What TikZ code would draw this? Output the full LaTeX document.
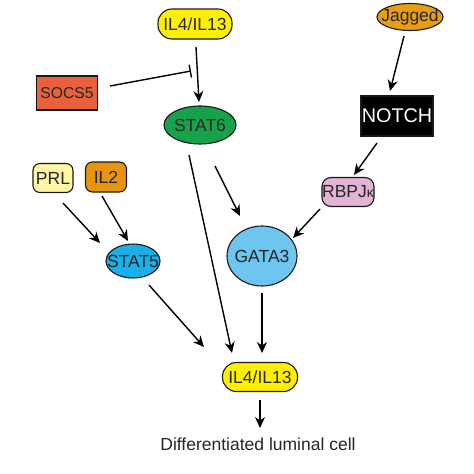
\documentclass[tikz,border=0pt]{standalone}
\usepackage{fontspec}
\setmainfont{Liberation Sans}
\usetikzlibrary{arrows.meta,shapes.geometric}
\definecolor{ilyellow}{RGB}{255,240,0}
\definecolor{socsred}{RGB}{232,96,60}
\definecolor{statgreen}{RGB}{22,162,74}
\definecolor{jagorange}{RGB}{232,158,18}
\definecolor{rbpjpink}{RGB}{226,179,211}
\definecolor{gatablue}{RGB}{109,197,240}
\definecolor{prlyellow}{RGB}{255,246,166}
\definecolor{iltwoorange}{RGB}{232,149,14}
\definecolor{statblue}{RGB}{26,175,232}
\newcommand{\zw}[1]{\makebox[0pt][c]{#1}}
\tikzset{
  base/.style={draw=black!90, line width=1.1pt, inner sep=0pt, text=black!85, font=\fontsize{17.5}{19}\selectfont},
  pill/.style={base, rectangle, rounded corners=14pt},
  rbox/.style={base, rectangle, rounded corners=7pt},
  oval/.style={base, ellipse},
  arr/.style={line width=1.4pt, -{Stealth[length=11pt,width=10pt]}},
  inhib/.style={line width=1.4pt, -{Bar[width=13pt,line width=1.4pt]}}
}
\begin{document}
\begin{tikzpicture}[x=1pt,y=-1pt]
\useasboundingbox (0,0) rectangle (474,474);
\node[pill, fill=ilyellow, minimum width=74pt, minimum height=30pt] (il4t) at (195,24) {IL4/IL13};
\node[base, rectangle, fill=socsred, minimum width=61pt, minimum height=34pt, font=\fontsize{15.7}{17}\selectfont] (socs5) at (67,93) {SOCS5};
\node[oval, fill=statgreen, minimum width=72pt, minimum height=38pt] (stat6) at (200,125) {\zw{STAT6}};
\node[oval, fill=jagorange, minimum width=66pt, minimum height=27pt] (jagged) at (410,17) {\zw{Jagged}};
\node[base, rectangle, fill=black, text=white, minimum width=72pt, minimum height=40pt, font=\fontsize{19.8}{21}\selectfont] (notch) at (397,116) {NOTCH};
\node[rbox, rounded corners=9pt, fill=rbpjpink, minimum width=52pt, minimum height=29pt] (rbpj) at (348,192) {RBPJ{\fontsize{14}{16}\selectfont κ}};
\node[oval, fill=gatablue, minimum width=70pt, minimum height=60pt] (gata3) at (262,256) {\zw{GATA3}};
\node[rbox, fill=prlyellow, minimum width=40pt, minimum height=29pt] (prl) at (53,178) {PRL};
\node[rbox, fill=iltwoorange, minimum width=41pt, minimum height=30pt] (il2) at (106,177) {IL2};
\node[oval, fill=statblue, minimum width=54pt, minimum height=34pt] (stat5) at (133,261) {\zw{STAT5}};
\node[pill, fill=ilyellow, minimum width=75pt, minimum height=29pt] (il4b) at (260,377) {IL4/IL13};
\node[font=\fontsize{17.5}{19}\selectfont, text=black!85, inner sep=0pt] (diff) at (258,444) {Differentiated luminal cell};
\coordinate (inh) at (191,71);

\draw[arr] ([shift={(1,23)}]il4t.center) -- ([shift={(-1,-23)}]stat6.center);
\draw[inhib] ([shift={(43,-7)}]socs5.center) -- (inh);
\draw[arr] ([shift={(-6,19)}]jagged.center) -- ([shift={(-7,-25)}]notch.center);
\draw[arr] ([shift={(-20,27)}]notch.center) -- ([shift={(6,-17)}]rbpj.center);
\draw[arr] ([shift={(-28,17)}]rbpj.center) -- ([shift={(31,-18)}]gata3.center);
\draw[arr] ([shift={(15,41)}]stat6.center) -- ([shift={(-22,-40)}]gata3.center);
\draw[arr] ([shift={(-11,30)}]stat6.center) -- ([shift={(-28,-24)}]il4b.center);
\draw[arr] ([shift={(0,37)}]gata3.center) -- ([shift={(2,-24)}]il4b.center);
\draw[arr] ([shift={(10,25)}]prl.center) -- ([shift={(-33,-18)}]stat5.center);
\draw[arr] ([shift={(-4,19)}]il2.center) -- ([shift={(-5,-20)}]stat5.center);
\draw[arr] ([shift={(16,24)}]stat5.center) -- ([shift={(-56,-30)}]il4b.center);
\draw[arr] ([shift={(0,23)}]il4b.center) -- ([shift={(2,-16)}]diff.center);
\end{tikzpicture}
\end{document}
